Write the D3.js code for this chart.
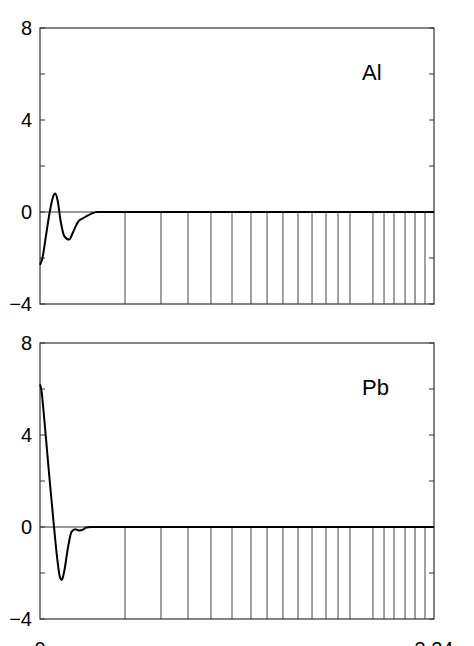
<!DOCTYPE html><html><head><meta charset="utf-8">
<script src="https://cdn.jsdelivr.net/npm/d3@7"></script>
<style>body{margin:0;background:#fff}</style></head><body>
<svg id="c" width="474" height="646"></svg>
<script>
const yTicks=[8,4,0,-4];
const yMinor=[6,2,-2];
const xTickLabels=["0","3.24"];
const lineXs=[0.699,0.995,1.217,1.406,1.579,1.735,1.867,1.998,2.122,2.237,2.352,2.451,2.549,2.738,2.829,2.911,3.002,3.084,3.166];
const alX=[0,0.02,0.05,0.08,0.11,0.125,0.145,0.17,0.2,0.24,0.27,0.31,0.36,0.42,0.47,1.0,2.0,3.24];
const alY=[-2.3,-2.0,-1.0,0.0,0.7,0.8,0.5,-0.4,-1.05,-1.2,-0.9,-0.45,-0.25,-0.08,0,0,0,0];
const pbX=[0,0.01,0.03,0.05,0.08,0.11,0.14,0.165,0.18,0.2,0.23,0.26,0.29,0.32,0.35,0.38,0.42,1.0,2.0,3.24];
const pbY=[6.2,6.0,5.0,3.8,2.0,0.3,-1.3,-2.2,-2.3,-1.9,-0.9,-0.2,-0.1,-0.15,-0.12,-0.02,0,0,0,0];
const panels=[{name:"Al",xs:alX,ys:alY,top:28},{name:"Pb",xs:pbX,ys:pbY,top:343}];
const svg=d3.select("#c");
const x=d3.scaleLinear().domain([0,3.24]).range([40,434]);
const font="Liberation Sans, Arial, sans-serif";
panels.forEach((p,i)=>{
  const y=d3.scaleLinear().domain([-4,8]).range([p.top+276,p.top]);
  const g=svg.append("g");
  g.selectAll("line.v").data(lineXs).enter().append("line")
    .attr("x1",d=>x(d)).attr("x2",d=>x(d)).attr("y1",y(0)).attr("y2",y(-4))
    .attr("stroke","#444").attr("stroke-width",1);
  g.append("line").attr("x1",x(0)).attr("x2",x(3.24)).attr("y1",y(0)).attr("y2",y(0)).attr("stroke","#333");
  g.append("rect").attr("x",x(0)).attr("y",y(8)).attr("width",x(3.24)-x(0)).attr("height",y(-4)-y(8))
    .attr("fill","none").attr("stroke","#333").attr("stroke-width",1.2);
  const allT=yTicks.concat(yMinor);
  g.selectAll("line.tl").data(allT).enter().append("line")
    .attr("x1",x(0)).attr("x2",x(0)+5).attr("y1",d=>y(d)).attr("y2",d=>y(d)).attr("stroke","#333");
  g.selectAll("line.tr").data(allT).enter().append("line")
    .attr("x1",x(3.24)).attr("x2",x(3.24)-5).attr("y1",d=>y(d)).attr("y2",d=>y(d)).attr("stroke","#333");
  g.selectAll("text.yl").data(yTicks).enter().append("text")
    .attr("x",32).attr("y",d=>y(d)+7).attr("text-anchor","end")
    .attr("font-family",font).attr("font-size",20).text(d=>d<0?"\u2212"+Math.abs(d):d);
  const line=d3.line().x(d=>x(d[0])).y(d=>y(d[1])).curve(d3.curveMonotoneX);
  g.append("path").datum(p.xs.map((v,k)=>[v,p.ys[k]])).attr("d",line)
    .attr("fill","none").attr("stroke","#000").attr("stroke-width",2);
  g.append("text").attr("x",362).attr("y",p.top+52).attr("font-family",font).attr("font-size",22).text(p.name);
});
svg.append("text").attr("x",x(0)).attr("y",656).attr("text-anchor","middle").attr("font-family",font).attr("font-size",20).text(xTickLabels[0]);
svg.append("text").attr("x",x(3.24)).attr("y",656).attr("text-anchor","middle").attr("font-family",font).attr("font-size",20).text(xTickLabels[1]);
</script></body></html>
